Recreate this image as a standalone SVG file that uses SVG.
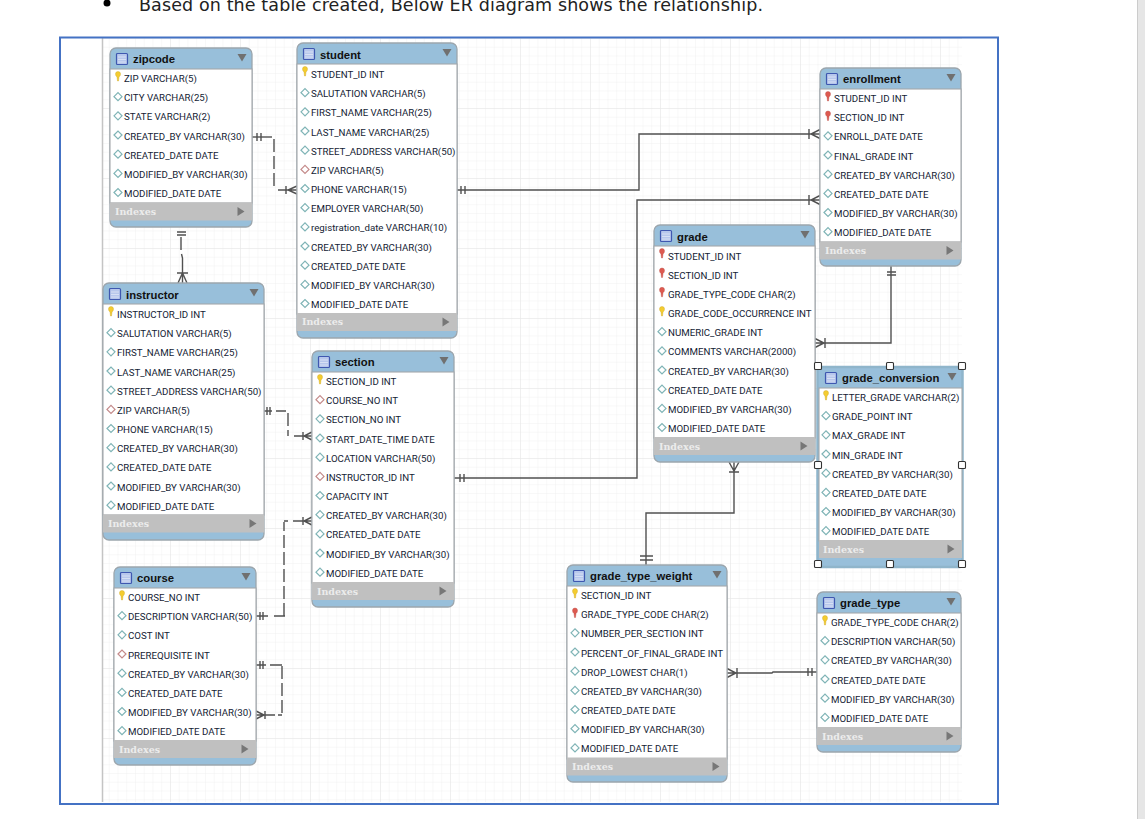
<svg xmlns="http://www.w3.org/2000/svg" width="1145" height="819" viewBox="0 0 1145 819">
<style>
.o{fill:#98bfda;stroke:#9ca6ad;stroke-width:1.300}
.b{fill:#fff;stroke:#a4a8ac;stroke-width:1.100}
.x{fill:#c0c0c0}
.h{font:bold 11.300px "Liberation Sans",Arial,sans-serif;fill:#111}
.r{font:9.700px Roboto,"Liberation Sans",sans-serif;fill:#141c34}
.i{font:bold 9.500px "DejaVu Serif",serif;fill:#ececec}
.c{fill:none;stroke:#505050;stroke-width:1.400}
.d{stroke-dasharray:13 4}
</style>
<defs>
<pattern id="minor" x="100" y="38" width="8.75" height="8.75" patternUnits="userSpaceOnUse"><path d="M0 0H8.750M0 0V8.750" fill="none" stroke="#f1f1f1" stroke-width="1"/></pattern>
<pattern id="major" x="100" y="38" width="70" height="70" patternUnits="userSpaceOnUse"><path d="M0 0H70M0 0V70" fill="none" stroke="#e6e6e6" stroke-width="1"/></pattern>
<g id="tb"><rect x=".5" y=".5" width="11" height="11" rx="1" fill="#b7c7ec" stroke="#3f58b0" stroke-width="1.200"/><path d="M2 4H10M2 6.500H10M2 9H10" stroke="#dfe6f6" stroke-width=".8" fill="none"/></g>
<path id="dn" d="M-4.500 -4H4.500L0 3.500Z" fill="#707070"/>
<path id="rt" d="M-3.500 -4.500L3.500 0L-3.500 4.500Z" fill="#777"/>
<g id="k"><path d="M-2.500 -3.500a2.500 2.500 0 0 1 5 0q0 2 -1.500 3L.5 3.500H-.5L-1 -.5Q-2.500 -1.500 -2.500 -3.500Z" fill="#f4cc30" stroke="#c9a420" stroke-width=".4"/></g>
<g id="f"><path d="M-2.500 -3.500a2.500 2.500 0 0 1 5 0q0 2 -1.500 3L.5 3.500H-.5L-1 -.5Q-2.500 -1.500 -2.500 -3.500Z" fill="#dd5a50" stroke="#b84a42" stroke-width=".4"/></g>
<path id="a" d="M-4 -1L0 -5L4 -1L0 3Z" fill="#fff" stroke="#7fb4b6" stroke-width="1.200"/>
<path id="e" d="M-4 -1L0 -5L4 -1L0 3Z" fill="#fff" stroke="#c48a8a" stroke-width="1.200"/>
<rect id="hd" x="-3.500" y="-3.500" width="7" height="7" rx="1" fill="#fff" stroke="#333" stroke-width="1.100"/>
</defs>

<rect width="1145" height="819" fill="#fff"/>
<rect x="1137" y="0" width="8" height="819" fill="#e6e6e6"/>
<rect x="1137" y="0" width="1" height="819" fill="#ccc"/>
<circle cx="107" cy="3" r="3.500" fill="#000"/>
<text x="139" y="11" style="font:17.500px 'DejaVu Sans',sans-serif" textLength="624" fill="#222">Based on the table created, Below ER diagram shows the relationship.</text>

<g id="canvas">
<rect x="102" y="38" width="860" height="764" fill="#fff"/>
<rect x="102" y="38" width="860" height="764" fill="url(#minor)"/>
<rect x="102" y="38" width="860" height="764" fill="url(#major)"/>
<path d="M102.500 38V802" stroke="#c4c4c4" stroke-width="1.500"/>
<rect x="60" y="37.500" width="938" height="766.500" fill="none" stroke="#4472c4" stroke-width="2"/>
</g>

<g id="connectors">
<path class="c" d="M252 137H272"/><path class="c" d="M257 133V141M261 133V141"/>
<path class="c d" d="M274 139V190"/><path class="c" d="M278 190H297M286 186V194M297 186L288 190L297 194"/>
<path class="c" d="M177 232H186M177 235H186"/><path class="c d" d="M181 237V254"/><path class="c" d="M181.500 254L182.500 258V283M177 273H188M178 283L182.500 273L187 283"/>
<path class="c" d="M457 190H639V134H820M461 186V194M465 186V194M809 129V139M820 129.500L811 134L820 138.500"/>
<path class="c" d="M454 478H637V200H820M460 474V482M464 474V482M809 195V205M820 195.500L811 200L820 204.500"/>
<path class="c" d="M264 411H272M267 407V415M270 407V415M276 411H286"/><path class="c d" d="M288 413V436"/><path class="c" d="M294 436H312M303 432V440M312 432L304 436L312 440"/>
<path class="c" d="M256 616H268M260 612V620M263 612V620M274 616H285"/><path class="c d" d="M284 616V522"/><path class="c" d="M284 521H288M293 521H312M303 517V525M312 517L304 521L312 525"/>
<path class="c" d="M256 665H266M260 661V669M263 661V669M270 665H282"/><path class="c d" d="M282 666V714"/><path class="c" d="M282 715H278M275 715H256M265 711V719M256 711L264 715L256 719"/>
<path class="c" d="M734 462V513H646V565M729 472H739M729 462L734 471L739 462M640 556H653M640 560H653"/>
<path class="c" d="M891 266V343H815M887 272H896M887 275H896M825 338V348M815 338.500L824 343L815 347.500"/>
<path class="c" d="M727 673H772L773 672H817M737 668V678M727 668.500L736 673L727 677.500M808 668V676M812 668V676"/>
</g>

<g id="zipcode" transform="translate(110,48)">
<rect class="o" width="142" height="179" rx="6"/><rect class="b" y="21" width="142" height="134"/><rect class="x" y="154.500" width="142" height="18"/>
<use href="#tb" x="6" y="5"/><text class="h" x="23" y="15">zipcode</text><use href="#dn" x="132" y="10"/>
<text class="i" x="5" y="167">Indexes</text><use href="#rt" x="131" y="163.500"/>
<use href="#k" x="8" y="29.500"/><text class="r" x="14" y="34">ZIP VARCHAR(5)</text>
<use href="#a" x="8" y="49.700"/><text class="r" x="14" y="53.200">CITY VARCHAR(25)</text>
<use href="#a" x="8" y="68.800"/><text class="r" x="14" y="72.300">STATE VARCHAR(2)</text>
<use href="#a" x="8" y="88"/><text class="r" x="14" y="91.500">CREATED_BY VARCHAR(30)</text>
<use href="#a" x="8" y="107.200"/><text class="r" x="14" y="110.700">CREATED_DATE DATE</text>
<use href="#a" x="8" y="126.400"/><text class="r" x="14" y="129.900">MODIFIED_BY VARCHAR(30)</text>
<use href="#a" x="8" y="145.500"/><text class="r" x="14" y="149">MODIFIED_DATE DATE</text>
</g>

<g id="student" transform="translate(297,43)">
<rect class="o" width="160" height="295" rx="6"/><rect class="b" y="21" width="160" height="250"/><rect class="x" y="270" width="160" height="18"/>
<use href="#tb" x="6" y="5"/><text class="h" x="23" y="16">student</text><use href="#dn" x="150" y="10"/>
<text class="i" x="5" y="282">Indexes</text><use href="#rt" x="149" y="279"/>
<use href="#k" x="8" y="29.500"/><text class="r" x="14" y="35">STUDENT_ID INT</text>
<use href="#a" x="8" y="50.700"/><text class="r" x="14" y="54.200">SALUTATION VARCHAR(5)</text>
<use href="#a" x="8" y="69.800"/><text class="r" x="14" y="73.300">FIRST_NAME VARCHAR(25)</text>
<use href="#a" x="8" y="89"/><text class="r" x="14" y="92.500">LAST_NAME VARCHAR(25)</text>
<use href="#a" x="8" y="108.200"/><text class="r" x="14" y="111.700">STREET_ADDRESS VARCHAR(50)</text>
<use href="#e" x="8" y="127.400"/><text class="r" x="14" y="130.900">ZIP VARCHAR(5)</text>
<use href="#a" x="8" y="146.500"/><text class="r" x="14" y="150">PHONE VARCHAR(15)</text>
<use href="#a" x="8" y="165.700"/><text class="r" x="14" y="169.200">EMPLOYER VARCHAR(50)</text>
<use href="#a" x="8" y="184.900"/><text class="r" x="14" y="188.400">registration_date VARCHAR(10)</text>
<use href="#a" x="8" y="204"/><text class="r" x="14" y="207.500">CREATED_BY VARCHAR(30)</text>
<use href="#a" x="8" y="223.200"/><text class="r" x="14" y="226.700">CREATED_DATE DATE</text>
<use href="#a" x="8" y="242.400"/><text class="r" x="14" y="245.900">MODIFIED_BY VARCHAR(30)</text>
<use href="#a" x="8" y="261.500"/><text class="r" x="14" y="265">MODIFIED_DATE DATE</text>
</g>

<g id="enrollment" transform="translate(820,68)">
<rect class="o" width="141" height="198" rx="6"/><rect class="b" y="21" width="141" height="153"/><rect class="x" y="173.500" width="141" height="18"/>
<use href="#tb" x="6" y="5"/><text class="h" x="23" y="15">enrollment</text><use href="#dn" x="131" y="10"/>
<text class="i" x="5" y="186">Indexes</text><use href="#rt" x="130" y="182.500"/>
<use href="#f" x="8" y="29.500"/><text class="r" x="14" y="34">STUDENT_ID INT</text>
<use href="#f" x="8" y="49"/><text class="r" x="14" y="53.200">SECTION_ID INT</text>
<use href="#a" x="8" y="68.800"/><text class="r" x="14" y="72.300">ENROLL_DATE DATE</text>
<use href="#a" x="8" y="88"/><text class="r" x="14" y="91.500">FINAL_GRADE INT</text>
<use href="#a" x="8" y="107.200"/><text class="r" x="14" y="110.700">CREATED_BY VARCHAR(30)</text>
<use href="#a" x="8" y="126.400"/><text class="r" x="14" y="129.900">CREATED_DATE DATE</text>
<use href="#a" x="8" y="145.500"/><text class="r" x="14" y="149">MODIFIED_BY VARCHAR(30)</text>
<use href="#a" x="8" y="164.700"/><text class="r" x="14" y="168.200">MODIFIED_DATE DATE</text>
</g>

<g id="grade" transform="translate(654,225)">
<rect class="o" width="161" height="237" rx="6"/><rect class="b" y="21" width="161" height="192"/><rect class="x" y="212" width="161" height="18"/>
<use href="#tb" x="6" y="5"/><text class="h" x="23" y="16">grade</text><use href="#dn" x="151" y="10"/>
<text class="i" x="5" y="224.500">Indexes</text><use href="#rt" x="150" y="221"/>
<use href="#f" x="8" y="29.500"/><text class="r" x="14" y="34.500">STUDENT_ID INT</text>
<use href="#f" x="8" y="49"/><text class="r" x="14" y="53.700">SECTION_ID INT</text>
<use href="#f" x="8" y="68.300"/><text class="r" x="14" y="72.800">GRADE_TYPE_CODE CHAR(2)</text>
<use href="#k" x="8" y="87.500"/><text class="r" x="14" y="92">GRADE_CODE_OCCURRENCE INT</text>
<use href="#a" x="8" y="107.700"/><text class="r" x="14" y="111.200">NUMERIC_GRADE INT</text>
<use href="#a" x="8" y="126.900"/><text class="r" x="14" y="130.400">COMMENTS VARCHAR(2000)</text>
<use href="#a" x="8" y="146"/><text class="r" x="14" y="149.500">CREATED_BY VARCHAR(30)</text>
<use href="#a" x="8" y="165.200"/><text class="r" x="14" y="168.700">CREATED_DATE DATE</text>
<use href="#a" x="8" y="184.400"/><text class="r" x="14" y="187.900">MODIFIED_BY VARCHAR(30)</text>
<use href="#a" x="8" y="203.500"/><text class="r" x="14" y="207">MODIFIED_DATE DATE</text>
</g>

<g id="grade_conversion" transform="translate(818,367)">
<rect class="o" x="-.5" width="145" height="200" rx="3" style="stroke:#8fb5cb;stroke-width:2.500"/><rect class="b" x="1" y="21" width="143" height="153"/><rect class="x" x="1" y="173" width="143" height="18"/>
<use href="#tb" x="7" y="5"/><text class="h" x="24" y="15">grade_conversion</text><use href="#dn" x="134" y="10"/>
<text class="i" x="5" y="185.500">Indexes</text><use href="#rt" x="133" y="182"/>
<use href="#k" x="8" y="29.500"/><text class="r" x="14" y="34">LETTER_GRADE VARCHAR(2)</text>
<use href="#a" x="8" y="49.700"/><text class="r" x="14" y="53.200">GRADE_POINT INT</text>
<use href="#a" x="8" y="68.800"/><text class="r" x="14" y="72.300">MAX_GRADE INT</text>
<use href="#a" x="8" y="88"/><text class="r" x="14" y="91.500">MIN_GRADE INT</text>
<use href="#a" x="8" y="107.200"/><text class="r" x="14" y="110.700">CREATED_BY VARCHAR(30)</text>
<use href="#a" x="8" y="126.400"/><text class="r" x="14" y="129.900">CREATED_DATE DATE</text>
<use href="#a" x="8" y="145.500"/><text class="r" x="14" y="149">MODIFIED_BY VARCHAR(30)</text>
<use href="#a" x="8" y="164.700"/><text class="r" x="14" y="168.200">MODIFIED_DATE DATE</text>
<use href="#hd" x="0" y="-1"/><use href="#hd" x="72" y="-1"/><use href="#hd" x="144" y="-1"/><use href="#hd" x="0" y="98"/><use href="#hd" x="144" y="98"/><use href="#hd" x="0" y="197"/><use href="#hd" x="72" y="197"/><use href="#hd" x="144" y="197"/>
</g>

<g id="instructor" transform="translate(103,283)">
<rect class="o" width="161" height="257" rx="6"/><rect class="b" y="21" width="161" height="211"/><rect class="x" y="231.500" width="161" height="18"/>
<use href="#tb" x="6" y="5"/><text class="h" x="23" y="15.500">instructor</text><use href="#dn" x="151" y="10"/>
<text class="i" x="5" y="244">Indexes</text><use href="#rt" x="150" y="240.500"/>
<use href="#k" x="8" y="29.500"/><text class="r" x="14" y="35">INSTRUCTOR_ID INT</text>
<use href="#a" x="8" y="50.700"/><text class="r" x="14" y="54.200">SALUTATION VARCHAR(5)</text>
<use href="#a" x="8" y="69.800"/><text class="r" x="14" y="73.300">FIRST_NAME VARCHAR(25)</text>
<use href="#a" x="8" y="89"/><text class="r" x="14" y="92.500">LAST_NAME VARCHAR(25)</text>
<use href="#a" x="8" y="108.200"/><text class="r" x="14" y="111.700">STREET_ADDRESS VARCHAR(50)</text>
<use href="#e" x="8" y="127.400"/><text class="r" x="14" y="130.900">ZIP VARCHAR(5)</text>
<use href="#a" x="8" y="146.500"/><text class="r" x="14" y="150">PHONE VARCHAR(15)</text>
<use href="#a" x="8" y="165.700"/><text class="r" x="14" y="169.200">CREATED_BY VARCHAR(30)</text>
<use href="#a" x="8" y="184.900"/><text class="r" x="14" y="188.400">CREATED_DATE DATE</text>
<use href="#a" x="8" y="204"/><text class="r" x="14" y="207.500">MODIFIED_BY VARCHAR(30)</text>
<use href="#a" x="8" y="223.200"/><text class="r" x="14" y="226.700">MODIFIED_DATE DATE</text>
</g>

<g id="section" transform="translate(312,351)">
<rect class="o" width="142" height="256" rx="6"/><rect class="b" y="21" width="142" height="211"/><rect class="x" y="231" width="142" height="18"/>
<use href="#tb" x="6" y="5"/><text class="h" x="23" y="15">section</text><use href="#dn" x="132" y="10"/>
<text class="i" x="5" y="243.500">Indexes</text><use href="#rt" x="131" y="240"/>
<use href="#k" x="8" y="29.500"/><text class="r" x="14" y="34">SECTION_ID INT</text>
<use href="#e" x="8" y="49.700"/><text class="r" x="14" y="53.200">COURSE_NO INT</text>
<use href="#a" x="8" y="68.800"/><text class="r" x="14" y="72.300">SECTION_NO INT</text>
<use href="#a" x="8" y="88"/><text class="r" x="14" y="91.500">START_DATE_TIME DATE</text>
<use href="#a" x="8" y="107.200"/><text class="r" x="14" y="110.700">LOCATION VARCHAR(50)</text>
<use href="#e" x="8" y="126.400"/><text class="r" x="14" y="129.900">INSTRUCTOR_ID INT</text>
<use href="#a" x="8" y="145.500"/><text class="r" x="14" y="149">CAPACITY INT</text>
<use href="#a" x="8" y="164.700"/><text class="r" x="14" y="168.200">CREATED_BY VARCHAR(30)</text>
<use href="#a" x="8" y="183.900"/><text class="r" x="14" y="187.400">CREATED_DATE DATE</text>
<use href="#a" x="8" y="203"/><text class="r" x="14" y="206.500">MODIFIED_BY VARCHAR(30)</text>
<use href="#a" x="8" y="222.200"/><text class="r" x="14" y="225.700">MODIFIED_DATE DATE</text>
</g>

<g id="course" transform="translate(114,567)">
<rect class="o" width="142" height="198" rx="6"/><rect class="b" y="21" width="142" height="153"/><rect class="x" y="173" width="142" height="18"/>
<use href="#tb" x="6" y="5"/><text class="h" x="23" y="15">course</text><use href="#dn" x="132" y="10"/>
<text class="i" x="5" y="185.500">Indexes</text><use href="#rt" x="131" y="182"/>
<use href="#k" x="8" y="29.500"/><text class="r" x="14" y="34">COURSE_NO INT</text>
<use href="#a" x="8" y="49.700"/><text class="r" x="14" y="53.200">DESCRIPTION VARCHAR(50)</text>
<use href="#a" x="8" y="68.800"/><text class="r" x="14" y="72.300">COST INT</text>
<use href="#e" x="8" y="88"/><text class="r" x="14" y="91.500">PREREQUISITE INT</text>
<use href="#a" x="8" y="107.200"/><text class="r" x="14" y="110.700">CREATED_BY VARCHAR(30)</text>
<use href="#a" x="8" y="126.400"/><text class="r" x="14" y="129.900">CREATED_DATE DATE</text>
<use href="#a" x="8" y="145.500"/><text class="r" x="14" y="149">MODIFIED_BY VARCHAR(30)</text>
<use href="#a" x="8" y="164.700"/><text class="r" x="14" y="168.200">MODIFIED_DATE DATE</text>
</g>

<g id="grade_type_weight" transform="translate(567,565)">
<rect class="o" width="160" height="217" rx="6"/><rect class="b" y="21" width="160" height="173"/><rect class="x" y="192.500" width="160" height="18"/>
<use href="#tb" x="6" y="5"/><text class="h" x="23" y="15">grade_type_weight</text><use href="#dn" x="150" y="10"/>
<text class="i" x="5" y="205">Indexes</text><use href="#rt" x="149" y="201.500"/>
<use href="#k" x="8" y="29.500"/><text class="r" x="14" y="34">SECTION_ID INT</text>
<use href="#f" x="8" y="49"/><text class="r" x="14" y="53.200">GRADE_TYPE_CODE CHAR(2)</text>
<use href="#a" x="8" y="68.800"/><text class="r" x="14" y="72.300">NUMBER_PER_SECTION INT</text>
<use href="#a" x="8" y="88"/><text class="r" x="14" y="91.500">PERCENT_OF_FINAL_GRADE INT</text>
<use href="#a" x="8" y="107.200"/><text class="r" x="14" y="110.700">DROP_LOWEST CHAR(1)</text>
<use href="#a" x="8" y="126.400"/><text class="r" x="14" y="129.900">CREATED_BY VARCHAR(30)</text>
<use href="#a" x="8" y="145.500"/><text class="r" x="14" y="149">CREATED_DATE DATE</text>
<use href="#a" x="8" y="164.700"/><text class="r" x="14" y="168.200">MODIFIED_BY VARCHAR(30)</text>
<use href="#a" x="8" y="183.900"/><text class="r" x="14" y="187.400">MODIFIED_DATE DATE</text>
</g>

<g id="grade_type" transform="translate(817,592)">
<rect class="o" width="144" height="160" rx="6"/><rect class="b" y="21" width="144" height="115"/><rect class="x" y="135" width="144" height="18"/>
<use href="#tb" x="6" y="5"/><text class="h" x="23" y="15">grade_type</text><use href="#dn" x="134" y="10"/>
<text class="i" x="5" y="147.500">Indexes</text><use href="#rt" x="133" y="144"/>
<use href="#k" x="8" y="29.500"/><text class="r" x="14" y="34">GRADE_TYPE_CODE CHAR(2)</text>
<use href="#a" x="8" y="49.700"/><text class="r" x="14" y="53.200">DESCRIPTION VARCHAR(50)</text>
<use href="#a" x="8" y="68.800"/><text class="r" x="14" y="72.300">CREATED_BY VARCHAR(30)</text>
<use href="#a" x="8" y="88"/><text class="r" x="14" y="91.500">CREATED_DATE DATE</text>
<use href="#a" x="8" y="107.200"/><text class="r" x="14" y="110.700">MODIFIED_BY VARCHAR(30)</text>
<use href="#a" x="8" y="126.400"/><text class="r" x="14" y="129.900">MODIFIED_DATE DATE</text>
</g>
</svg>
